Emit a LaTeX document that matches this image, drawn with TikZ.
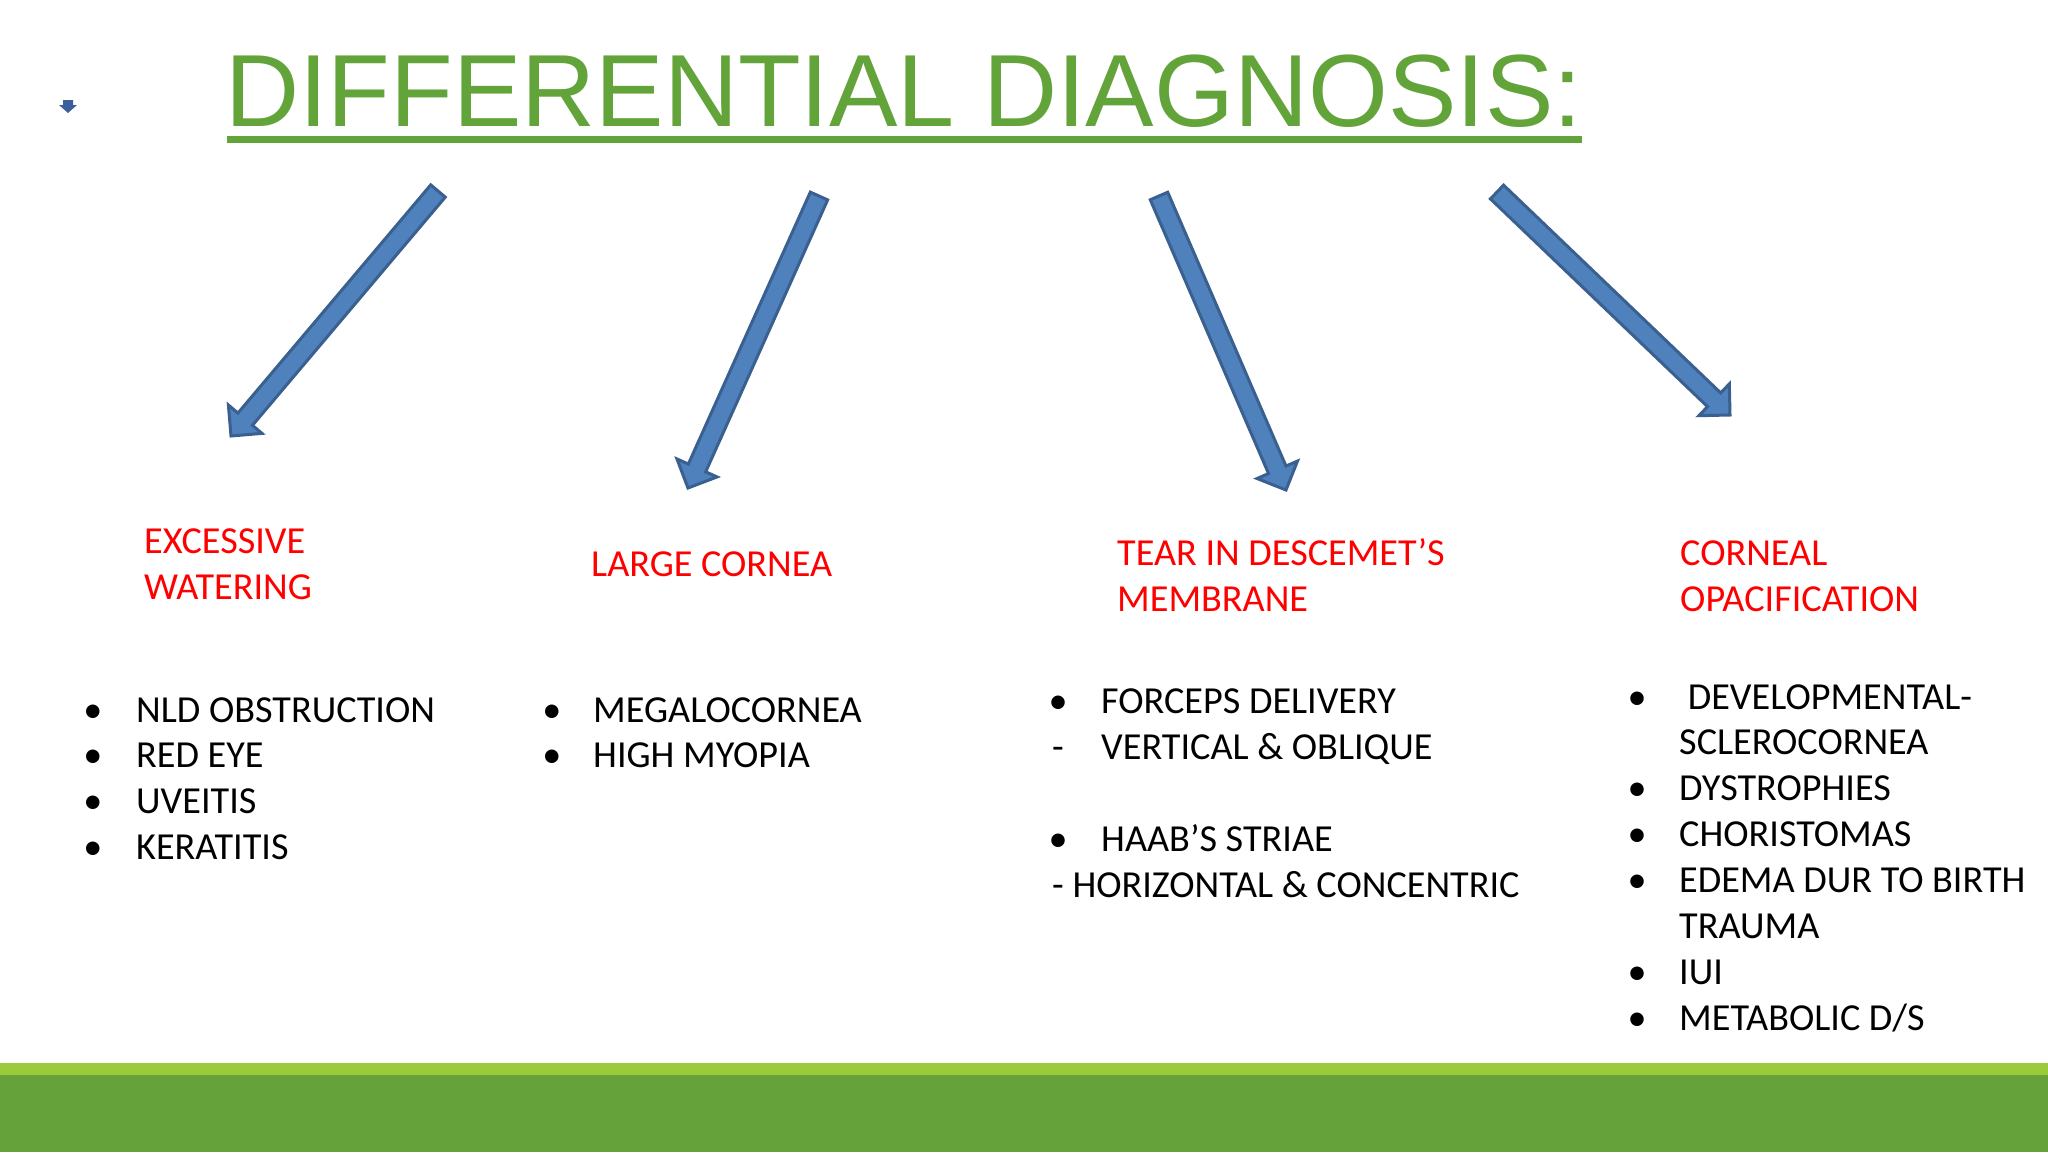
\documentclass[tikz,border=0pt]{standalone}
\usepackage{fontspec}
\setmainfont{Carlito}
\newfontfamily\titlefont{Liberation Sans}
\usetikzlibrary{calc,positioning}
\definecolor{titlegreen}{RGB}{99,164,58}
\definecolor{bargreen}{RGB}{101,163,58}
\definecolor{stripegreen}{RGB}{155,203,59}
\definecolor{arrowfill}{RGB}{79,129,189}
\definecolor{arrowline}{RGB}{58,96,143}
\definecolor{markblue}{RGB}{60,95,154}
\definecolor{headred}{RGB}{255,0,0}
\newcommand{\listfont}{\fontsize{38.2}{46}\selectfont}
% block arrow from tail #1 to tip #2
\newcommand{\blockarrow}[2]{%
  \coordinate (hb) at ($(#2)!22pt!(#1)$);
  \draw[blockarr] ($(#1)!9.5pt!90:(#2)$) -- ($(hb)!9.5pt!90:(#2)$)
    -- ($(hb)!22pt!90:(#2)$) -- (#2) -- ($(hb)!22pt!-90:(#2)$)
    -- ($(hb)!9.5pt!-90:(#2)$) -- ($(#1)!9.5pt!-90:(#2)$) -- cycle;
}

\begin{document}
\begin{tikzpicture}[x=1pt,y=-1pt,
    blockarr/.style={fill=arrowfill,draw=arrowline,line width=3pt,line join=miter},
    head/.style={anchor=base west,inner sep=0,text=headred,font=\listfont},
    item/.style={anchor=base west,inner sep=0,font=\listfont},
    dot/.style={anchor=base,inner sep=0,font=\listfont}]
  \useasboundingbox (0,0) rectangle (2048,1152);
  \fill[white] (0,0) rectangle (2048,1152);
  % Title
  \node[anchor=base west,inner sep=0,text=titlegreen,
    font={\titlefont\fontsize{102.6}{120}\selectfont}] (title) at (225,126)
    {DIFFERENTIAL DIAGNOSIS:};
  \draw[titlegreen,line width=7pt] ([xshift=2pt,yshift=-13.5pt]title.base west)
    -- ([yshift=-13.5pt]title.base east);
  % Small marker
  \fill[markblue] (63,100) -- (73,100) -- (73,105) -- (77,105) -- (68,113)
    -- (59,105) -- (63,105) -- cycle;
  % Arrows
  \coordinate (a1s) at (438,191);
  \coordinate (a1e) at (231,436);
  \coordinate (a2s) at (819,196);
  \coordinate (a2e) at (688,488);
  \coordinate (a3s) at (1159,196);
  \coordinate (a3e) at (1286,490);
  \coordinate (a4s) at (1497,192);
  \coordinate (a4e) at (1730,415);
  \blockarrow{a1s}{a1e}
  \blockarrow{a2s}{a2e}
  \blockarrow{a3s}{a3e}
  \blockarrow{a4s}{a4e}
  % Headings
  \node[head] (water1) at (144,553) {EXCESSIVE};
  \node[head] (water2) at (144,599) {WATERING};
  \node[head] (cornea) at (591,576) {LARGE CORNEA};
  \node[head] (tear1) at (1117,565) {TEAR IN DESCEMET’S};
  \node[head] (tear2) at (1117,611) {MEMBRANE};
  \node[head] (opac1) at (1680,565) {CORNEAL};
  \node[head] (opac2) at (1680,611) {OPACIFICATION};
  % Lists
  \foreach \txt [count=\i] in {NLD OBSTRUCTION, RED EYE, UVEITIS, KERATITIS} {
    \node[dot] (wdot\i) at (93,{722+45.8*(\i-1)}) {•};
    \node[item] (witem\i) at (136,{722+45.8*(\i-1)}) {\txt};
  }
  \foreach \txt [count=\i] in {MEGALOCORNEA, HIGH MYOPIA} {
    \node[dot] (cdot\i) at (552,{722+45.8*(\i-1)}) {•};
    \node[item] (citem\i) at (593,{722+45.8*(\i-1)}) {\txt};
  }
  \node[dot] (tdot1) at (1058,713) {•};
  \node[item] (titem1) at (1101,713) {FORCEPS DELIVERY};
  \node[dot] (tdot2) at (1058,759) {-};
  \node[item] (titem2) at (1101,759) {VERTICAL \& OBLIQUE};
  \node[dot] (tdot3) at (1058,851) {•};
  \node[item] (titem3) at (1101,851) {HAAB’S STRIAE};
  \node[item] (titem4) at (1052,897) {- HORIZONTAL \& CONCENTRIC};
  \foreach \txt [count=\i] in {\ DEVELOPMENTAL-, SCLEROCORNEA, DYSTROPHIES,
      CHORISTOMAS, EDEMA DUR TO BIRTH, TRAUMA, IUI, METABOLIC D/S} {
    \node[item] (oitem\i) at (1679,{709+45.9*(\i-1)}) {\txt};
  }
  \foreach \i in {1,3,4,5,7,8} {
    \node[dot] (odot\i) at (1637,{709+45.9*(\i-1)}) {•};
  }
  % Bottom bar
  \fill[stripegreen] (0,1063) rectangle (2048,1075);
  \fill[bargreen] (0,1075) rectangle (2048,1152);
\end{tikzpicture}
\end{document}
